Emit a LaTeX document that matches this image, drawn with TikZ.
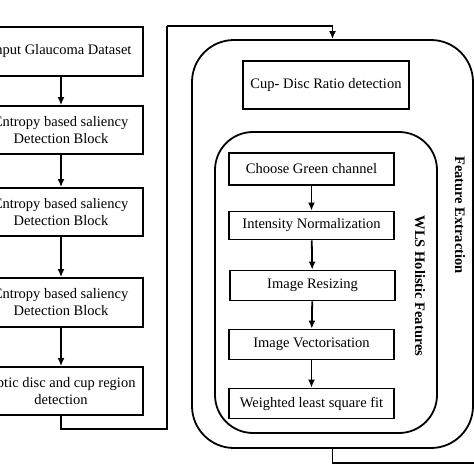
\documentclass[tikz,border=0pt]{standalone}
\usepackage{fontspec}
\setmainfont{Liberation Serif}
\usetikzlibrary{arrows.meta}
\begin{document}
\begin{tikzpicture}[x=1pt,y=-1pt,
  every node/.style={font=\fontsize{14.5}{17}\selectfont},
  lbox/.style={draw,line width=1.8pt,minimum width=164pt,align=center,inner sep=0pt},
  ibox/.style={draw,line width=1.8pt,minimum width=165pt,minimum height=30pt,inner sep=0pt},
  cont/.style={draw,line width=1.8pt,rounded corners=42pt,inner sep=0pt},
  arr/.style={line width=1.8pt,-{Latex[length=8pt,width=7pt]}},
  con/.style={line width=1.8pt}]
\useasboundingbox (0,0) rectangle (474,474);
\clip (0,0) rectangle (474,474);
\fill[white] (0,0) rectangle (474,474);
% containers
\node[cont,minimum width=281pt,minimum height=408pt] (outer) at (332.5,244) {};
\node[cont,rounded corners=38pt,minimum width=222pt,minimum height=301pt] (inner) at (326,282.5) {};
% left column
\node[lbox,minimum height=49pt] (b1) at (61,51.5) {Input Glaucoma Dataset};
\node[lbox,minimum height=48pt] (b2) at (61,130) {Entropy based saliency\\Detection Block};
\node[lbox,minimum height=48pt] (b3) at (61,212) {Entropy based saliency\\Detection Block};
\node[lbox,minimum height=49pt] (b4) at (61,302.5) {Entropy based saliency\\Detection Block};
\node[lbox,minimum height=48pt] (b5) at (61,391) {Optic disc and cup region\\detection};
\draw[arr] (b1) -- (b2);
\draw[arr] (b2) -- (b3);
\draw[arr] (b3) -- (b4);
\draw[arr] (b4) -- (b5);
% connector to feature extraction
\coordinate (c1) at (167,429);
\coordinate (c2) at (167,26);
\draw[con] (b5.south) |- (c1) -- (c2);
\draw[arr] (c2) -| (outer.north);
% cup disc
\node[draw,line width=1.8pt,minimum width=166pt,minimum height=48pt,inner sep=0pt] (cd) at (326,85) {Cup- Disc Ratio detection};
% inner boxes
\node[ibox,minimum height=32pt] (i1) at (311.5,169) {Choose Green channel};
\node[ibox,minimum height=28pt] (i2) at (311.5,225.5) {Intensity Normalization};
\node[ibox] (i3) at (312.5,285.5) {Image Resizing};
\node[ibox] (i4) at (311.5,344.5) {Image Vectorisation};
\node[ibox] (i5) at (311.5,403.5) {Weighted least square fit};
\draw[arr] (i1) -- (i2);
\draw[arr] (i2) -- (i3);
\draw[arr] (i3) -- (i4);
\draw[arr] (i4) -- (i5);
% labels
\node[rotate=-90,font=\fontsize{14.5}{17}\selectfont\bfseries] (fe) at (460,215) {Feature Extraction};
\node[rotate=-90,font=\fontsize{14.5}{17}\selectfont\bfseries] (wls) at (420,286) {WLS Holistic Features};
% exit
\coordinate (ex) at (490,463);
\draw[con] (outer.south) |- (ex);
\end{tikzpicture}
\end{document}
